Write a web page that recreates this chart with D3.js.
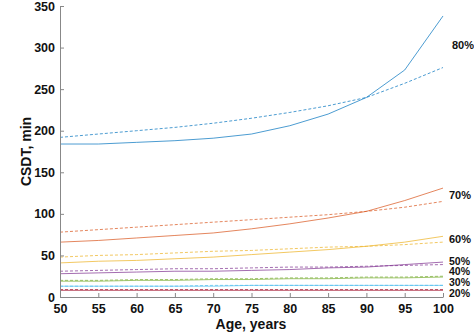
<!DOCTYPE html>
<html lang="en">
<head>
<meta charset="UTF-8">
<style>
  body { margin: 0; background: #fff; }
  text { font-family: "Liberation Sans", Arial, sans-serif; font-weight: bold; fill: #111; }
</style>
</head>
<body>
<div id="chart"></div>
<script src="https://cdn.jsdelivr.net/npm/d3@7/dist/d3.min.js"></script>
<script>
var ages = [50, 55, 60, 65, 70, 75, 80, 85, 90, 95, 100];
var yTicks = [0, 50, 100, 150, 200, 250, 300, 350];
var labels = ["80%", "70%", "60%", "50%", "40%", "30%", "20%"];
var colors = ["#0072BD", "#D95319", "#EDB120", "#7E2F8E", "#77AC30", "#4DBEEE", "#A2142F"];

// solid lines (model), per label, per age
var solid = [
  [184, 184, 186, 188, 191, 196, 206, 220, 240, 273, 338],
  [66, 68, 71, 74, 77, 82, 88, 95, 103, 116, 131],
  [41, 43, 44, 46, 48, 51, 54, 57, 61, 66, 73],
  [28, 29, 30, 31, 31, 32, 33, 35, 36, 39, 42],
  [19, 19, 20, 20, 21, 21, 22, 22, 23, 23, 24],
  [13, 13, 13, 13, 13, 14, 14, 14, 14, 14, 14],
  [8, 8, 8, 8, 8, 8, 8, 8, 8, 8, 8]
];
// dashed lines
var dashed = [
  [192, 196, 200, 204, 209, 215, 222, 230, 240, 257, 276],
  [78, 81, 84, 87, 90, 93, 96, 99, 103, 108, 115],
  [48, 50, 51, 53, 55, 56, 58, 60, 61, 63, 66],
  [31, 32, 33, 34, 34, 35, 36, 36, 37, 38, 39],
  [20, 20, 21, 21, 22, 22, 23, 23, 24, 24, 25],
  [13, 13, 13, 13, 14, 14, 14, 14, 14, 14, 14],
  [9, 9, 9, 9, 9, 9, 9, 9, 9, 9, 9]
];
// label vertical positions in data units (spread at the bottom to avoid overlap)
var labelVals = [303, 123, 70, 43.5, 30.5, 17.5, 4.3];

var W = 474, H = 335;
var margin = {top: 6, right: 31, bottom: 38, left: 60};

var x = d3.scaleLinear().domain([50, 100]).range([margin.left, W - margin.right]);
var y = d3.scaleLinear().domain([0, 350]).range([H - margin.bottom, margin.top]);

var svg = d3.select("#chart").append("svg")
  .attr("width", W).attr("height", H);

var line = d3.line()
  .x(function(d, i) { return x(ages[i]); })
  .y(function(d) { return y(d); });

colors.forEach(function(c, k) {
  svg.append("path").datum(dashed[k])
    .attr("d", line)
    .attr("fill", "none")
    .attr("stroke", c)
    .attr("stroke-opacity", 0.7)
    .attr("stroke-width", 1)
    .attr("stroke-dasharray", "3,2");
  svg.append("path").datum(solid[k])
    .attr("d", line)
    .attr("fill", "none")
    .attr("stroke", c)
    .attr("stroke-opacity", 0.7)
    .attr("stroke-width", 1);
});

var xAxis = svg.append("g")
  .attr("transform", "translate(0," + (H - margin.bottom) + ")")
  .call(d3.axisBottom(x).tickValues(ages).tickSizeInner(-4).tickSizeOuter(0).tickPadding(7));
var yAxis = svg.append("g")
  .attr("transform", "translate(" + margin.left + ",0)")
  .call(d3.axisLeft(y).tickValues(yTicks).tickSizeInner(-4).tickSizeOuter(0).tickPadding(5));

[xAxis, yAxis].forEach(function(a) {
  a.select(".domain").attr("stroke", "#888");
  a.selectAll(".tick line").attr("stroke", "#888");
  a.selectAll(".tick text").style("font-size", "12.5px").style("font-family", "Liberation Sans, Arial, sans-serif").style("font-weight", "bold").attr("fill", "#111");
});

svg.selectAll(".pct").data(labels).enter().append("text")
  .attr("class", "pct")
  .attr("x", function(d, i) { return i === 0 ? 452 : 449; })
  .attr("y", function(d, i) { return y(labelVals[i]); })
  .attr("dy", "0.35em")
  .style("font-size", function(d, i) { return i < 3 ? "11px" : "10.5px"; })
  .text(function(d) { return d; });

svg.append("text")
  .attr("transform", "translate(26," + y(175) + ") rotate(-90)")
  .attr("text-anchor", "middle")
  .attr("dy", "0.35em")
  .style("font-size", "14px")
  .text("CSDT, min");

svg.append("text")
  .attr("x", 251).attr("y", 324)
  .attr("text-anchor", "middle")
  .attr("dy", "0.35em")
  .style("font-size", "14px")
  .text("Age, years");
</script>
</body>
</html>
